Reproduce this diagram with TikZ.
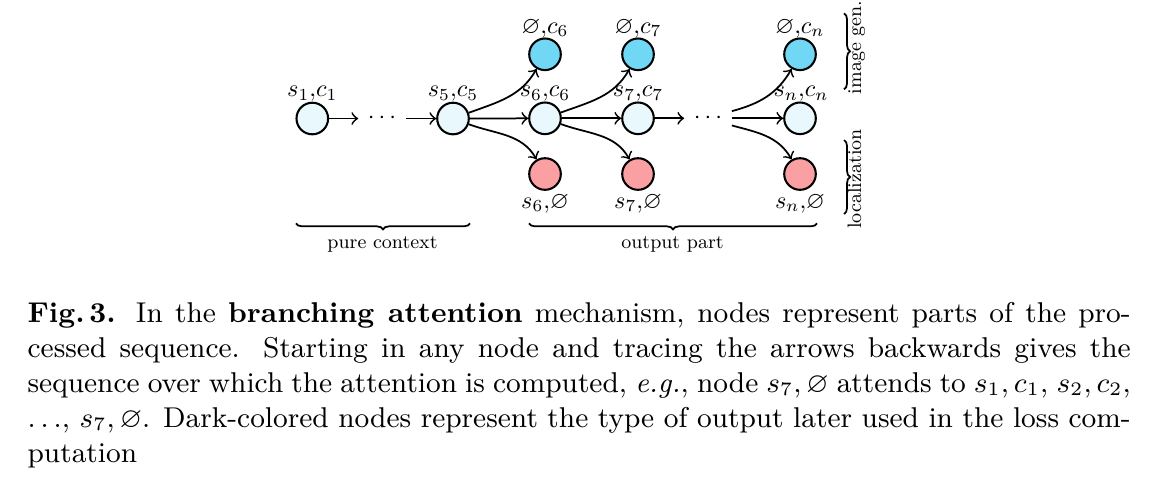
\documentclass[tikz,border=0pt]{standalone}
\usepackage{amssymb}
\usetikzlibrary{decorations.pathreplacing}
\definecolor{lightc}{RGB}{232,248,253}
\definecolor{cyanc}{RGB}{112,216,245}
\definecolor{pinkc}{RGB}{250,160,162}
\newcommand{\mylab}[1]{\scalebox{0.76}{\fontsize{10}{12}\selectfont$#1$}}
\newcommand{\mybr}[1]{\scalebox{0.68}{\fontsize{9}{11}\selectfont #1}}
\newcommand{\brk}{\penalty-10000\relax}
\tikzset{
  st/.style={circle, draw, line width=0.65pt, minimum size=9.94pt, inner sep=0pt},
  mnode/.style={st, fill=lightc},
  tnode/.style={st, fill=cyanc},
  bnode/.style={st, fill=pinkc},
  lab/.style={inner sep=0pt, anchor=base},
  dotsn/.style={inner sep=0pt, minimum width=14.6pt, minimum height=4.1pt},
  arr/.style={->, line width=0.55pt},
  br/.style={decorate, decoration={brace, amplitude=1.9pt}, line width=0.55pt},
}
\begin{document}
\begin{tikzpicture}[x=0.31447pt, y=-0.31447pt]
\useasboundingbox (0,0) rectangle (1158,485);
% nodes
\node[mnode] (s1) at (312.3,118.5) {};
\node[dotsn] (d1) at (382,118.5) {\mylab{\cdots}};
\node[mnode] (s5) at (453,118.5) {};
\node[mnode] (s6) at (545,118.3) {};
\node[tnode] (t6) at (545,54.3) {};
\node[bnode] (b6) at (545,174) {};
\node[mnode] (s7) at (638,118.3) {};
\node[tnode] (t7) at (638,54.3) {};
\node[bnode] (b7) at (638,174) {};
\node[dotsn] (d2) at (708,118.3) {\mylab{\cdots}};
\node[mnode] (sn) at (800,118.3) {};
\node[tnode] (tn) at (800,54.3) {};
\node[bnode] (bn) at (800,174) {};
% labels
\node[lab] (l1) at (312.3,96.7) {\mylab{s_1{,}c_1}};
\node[lab] (l5) at (453,96.7) {\mylab{s_5{,}c_5}};
\node[lab] (l6) at (545,96.7) {\mylab{s_6{,}c_6}};
\node[lab] (l7) at (638,96.7) {\mylab{s_7{,}c_7}};
\node[lab] (ln) at (801,96.7) {\mylab{s_n{,}c_n}};
\node[lab] (lt6) at (545,33.3) {\mylab{\varnothing{,}c_6}};
\node[lab] (lt7) at (638,33.3) {\mylab{\varnothing{,}c_7}};
\node[lab] (ltn) at (800,33.3) {\mylab{\varnothing{,}c_n}};
\node[lab] (lb6) at (545,208.3) {\mylab{s_6{,}\varnothing}};
\node[lab] (lb7) at (638,208.3) {\mylab{s_7{,}\varnothing}};
\node[lab] (lbn) at (800,208.3) {\mylab{s_n{,}\varnothing}};
% arrows
\draw[arr] (s1) -- (d1);
\draw[arr] (d1) -- (s5);
\draw[arr] (s5) to[out=20,in=240] (t6);
\draw[arr] (s5) -- (s6);
\draw[arr] (s5) to[out=-20,in=120] (b6);
\draw[arr] (s6) to[out=20,in=240] (t7);
\draw[arr] (s6) -- (s7);
\draw[arr] (s6) to[out=-20,in=120] (b7);
\draw[arr] (s7) -- (d2);
\draw[arr] (d2.north east) to[out=15,in=240] (tn);
\draw[arr] (d2.east) -- (sn);
\draw[arr] (d2.south east) to[out=-15,in=120] (bn);
% braces
\coordinate (pc1) at (470,223.3);
\coordinate (pc2) at (296,223.3);
\coordinate (op1) at (817,223.3);
\coordinate (op2) at (529,223.3);
\coordinate (ig1) at (844,13.3);
\coordinate (ig2) at (844,89.3);
\coordinate (lo1) at (844,140);
\coordinate (lo2) at (844,214);
\draw[br] (pc1) -- (pc2);
\draw[br] (op1) -- (op2);
\draw[br] (ig1) -- (ig2);
\draw[br] (lo1) -- (lo2);
\node[lab] (tpc) at (382.5,248.5) {\mybr{pure context}};
\node[lab] (top) at (672.5,248.5) {\mybr{output part}};
\node[lab, rotate=90] (tig) at (861,47.5) {\mybr{image gen.}};
\node[lab, rotate=90] (tlo) at (861,179) {\mybr{localization}};
% caption
\node[anchor=base west, text width=346.9pt, inner sep=0pt, align=justify,
      font=\fontsize{9}{11}\selectfont] (cap) at (27,322.5)
{\textbf{Fig.\,3.} In the \textbf{branching attention} mechanism, nodes represent parts of the pro-\brk
cessed sequence. Starting in any node and tracing the arrows backwards gives the\brk
sequence over which the attention is computed, \emph{e.g.}, node $s_7,\varnothing$ attends to $s_1,c_1$, $s_2,c_2$,\brk
$\ldots$, $s_7,\varnothing$. Dark-colored nodes represent the type of output later used in the loss com-\brk
putation};
\end{tikzpicture}
\end{document}
